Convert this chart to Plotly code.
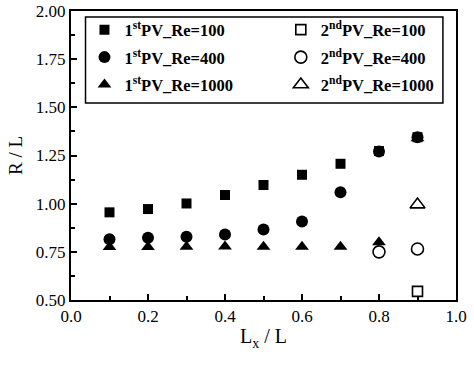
import plotly.graph_objects as go

x = [0.1, 0.2, 0.3, 0.4, 0.5, 0.6, 0.7, 0.8, 0.9]
first_re100 = [0.955, 0.972, 1.001, 1.045, 1.097, 1.150, 1.207, 1.273, 1.345]
first_re400 = [0.815, 0.823, 0.828, 0.840, 0.866, 0.908, 1.059, 1.271, 1.345]
first_re1000 = [0.775, 0.775, 0.777, 0.778, 0.777, 0.776, 0.776, 0.800, 1.340]

x2_re100 = [0.9]
second_re100 = [0.545]
x2_re400 = [0.8, 0.9]
second_re400 = [0.750, 0.765]
x2_re1000 = [0.9]
second_re1000 = [0.995]

names1 = ["1<sup>st</sup>PV_Re=100", "1<sup>st</sup>PV_Re=400", "1<sup>st</sup>PV_Re=1000"]
names2 = ["2<sup>nd</sup>PV_Re=100", "2<sup>nd</sup>PV_Re=400", "2<sup>nd</sup>PV_Re=1000"]

FONT = "Liberation Serif"
fig = go.Figure()

fig.add_trace(go.Scatter(x=x, y=first_re100, mode="markers", name=names1[0], legend="legend", legendgroup="a1",
                         marker=dict(symbol="square", size=10, color="black")))
fig.add_trace(go.Scatter(x=x, y=first_re400, mode="markers", name=names1[1], legend="legend", legendgroup="a2",
                         marker=dict(symbol="circle", size=12, color="black")))
fig.add_trace(go.Scatter(x=x, y=first_re1000, mode="markers", name=names1[2], legend="legend", legendgroup="a3",
                         marker=dict(symbol="triangle-up", size=12, color="black")))

fig.add_trace(go.Scatter(x=x2_re100, y=second_re100, mode="markers", name=names2[0], legend="legend2", legendgroup="b1",
                         marker=dict(symbol="square-open", size=10, color="black", line=dict(width=1.6))))
fig.add_trace(go.Scatter(x=x2_re400, y=second_re400, mode="markers", name=names2[1], legend="legend2", legendgroup="b2",
                         marker=dict(symbol="circle-open", size=12, color="black", line=dict(width=1.6))))
fig.add_trace(go.Scatter(x=x2_re1000, y=second_re1000, mode="markers", name=names2[2], legend="legend2", legendgroup="b3",
                         marker=dict(symbol="triangle-up-open", size=13, color="black", line=dict(width=1.6))))

legend_common = dict(bgcolor="rgba(0,0,0,0)", borderwidth=0,
                     font=dict(family=FONT, size=16.5, color="black", weight="bold"),
                     yanchor="top", xanchor="left", itemwidth=30, tracegroupgap=3)
fig.update_layout(
    legend=dict(x=0.035, y=0.995, **legend_common),
    legend2=dict(x=0.545, y=0.995, **legend_common),
)

fig.add_shape(type="rect", xref="paper", yref="paper", x0=0.0377, x1=0.966, y0=0.682, y1=0.979,
              line=dict(color="black", width=1.5), fillcolor="rgba(0,0,0,0)")

axis_common = dict(showgrid=False, zeroline=False, showline=True, linecolor="black", linewidth=2,
                   mirror=True, ticks="inside", ticklen=6, tickwidth=2, tickcolor="black",
                   automargin=False,
                   tickfont=dict(family=FONT, size=17, color="black"))

fig.update_xaxes(range=[0, 1.0], dtick=0.2, tickformat=".1f",
                 minor=dict(dtick=0.1, ticks="inside", ticklen=4, tickwidth=2, tickcolor="black"),
                 title=dict(text="L<sub>x</sub> / L", font=dict(family=FONT, size=20, color="black"), standoff=4),
                 **axis_common)
fig.update_yaxes(range=[0.5, 2.0], dtick=0.25, tickformat=".2f",
                 minor=dict(dtick=0.125, ticks="inside", ticklen=4, tickwidth=2, tickcolor="black"),
                 title=dict(text="R / L", font=dict(family=FONT, size=19, color="black"), standoff=8),
                 **axis_common)

fig.update_layout(width=474, height=366, margin=dict(l=71, r=18, t=11, b=66),
                  paper_bgcolor="white", plot_bgcolor="white", showlegend=True)

fig.write_html("out.html", config={"displayModeBar": False},
               post_script="document.body.style.margin='0';")
